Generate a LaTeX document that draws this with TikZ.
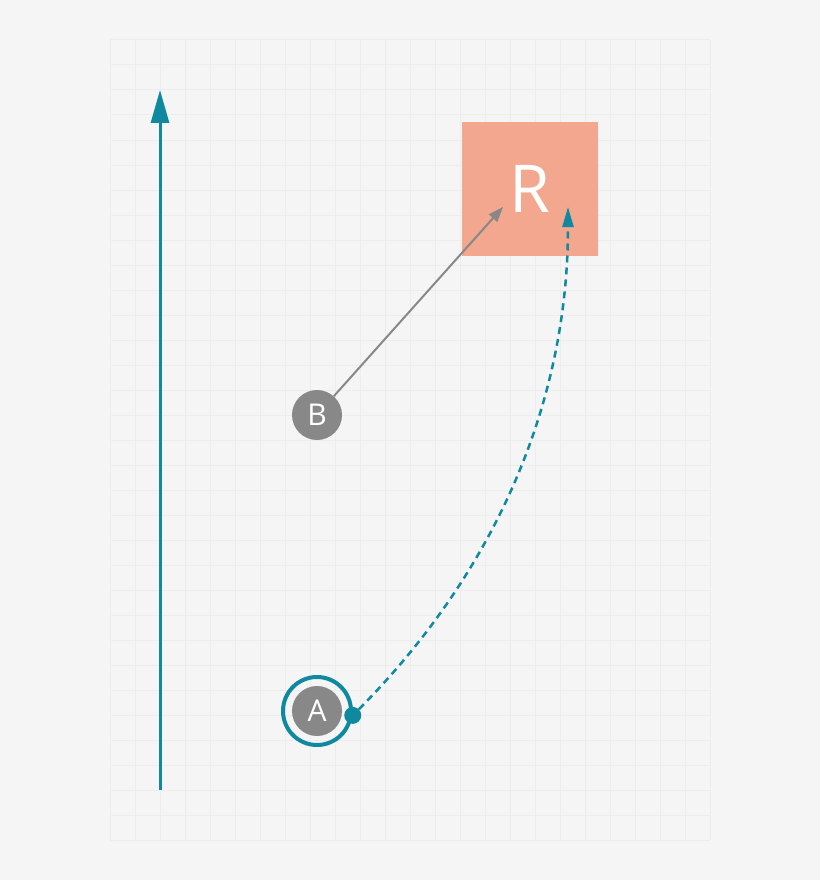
\documentclass[tikz,border=0pt]{standalone}
\usepackage{fontspec}
\setmainfont{Open Sans}
\usetikzlibrary{arrows.meta}
\definecolor{BgGray}{RGB}{245,245,245}
\definecolor{GridGray}{RGB}{237,237,237}
\definecolor{AxisTeal}{RGB}{14,137,160}
\definecolor{DotGray}{RGB}{136,136,136}
\definecolor{RBoxSalmon}{RGB}{243,167,143}

\begin{document}
\begin{tikzpicture}[x=1pt,y=-1pt,
  gridline/.style={GridGray,line width=1pt},
  dotnode/.style={circle,fill=DotGray,minimum size=50pt,inner sep=0pt,text=white,font=\fontsize{30}{30}\selectfont},
  ringnode/.style={circle,draw=AxisTeal,line width=4pt,minimum size=68pt,inner sep=0pt},
  tealdot/.style={circle,fill=AxisTeal,minimum size=17pt,inner sep=0pt},
  rbox/.style={rectangle,fill=RBoxSalmon,minimum width=136pt,minimum height=134pt,inner sep=0pt,text=white,font=\fontsize{66}{66}\selectfont},
  axisarrow/.style={AxisTeal,line width=3pt,-{Triangle[length=33pt,width=18pt]}},
  linkarrow/.style={DotGray,line width=2pt,-{Triangle[length=15pt,width=11pt]}},
  dasharrow/.style={AxisTeal,line width=2.5pt,dash pattern=on 7pt off 5pt,-{Triangle[length=20pt,width=11pt]}}]
\fill[BgGray] (0,0) rectangle (820,880);
% grid
\foreach \x in {0,...,24} {
   \draw[gridline] (110+25*\x,40) -- (110+25*\x,840);
}
\foreach \y in {0,...,32} {
   \draw[gridline] (110,40+25*\y) -- (710,40+25*\y);
}
% axis
\coordinate (axisbot) at (160,790);
\coordinate (axistop) at (160,90);
\draw[axisarrow] (axisbot) -- (axistop);
% target box and points
\node[rbox] (R) at (530,189) {R};
\coordinate (Rin) at (503,207);
\coordinate (Rtip) at (568,207);
\node[dotnode] (B) at (317,415) {B};
\node[ringnode] (Aring) at (317,711) {};
\node[dotnode] (A) at (Aring) {A};
\node[tealdot] (Adot) at (Aring.-7) {};
% connectors
\draw[linkarrow] (B) -- (Rin);
\draw[dasharrow] (Adot) .. controls (496,571) and (568,402) .. (Rtip);
\end{tikzpicture}
\end{document}
